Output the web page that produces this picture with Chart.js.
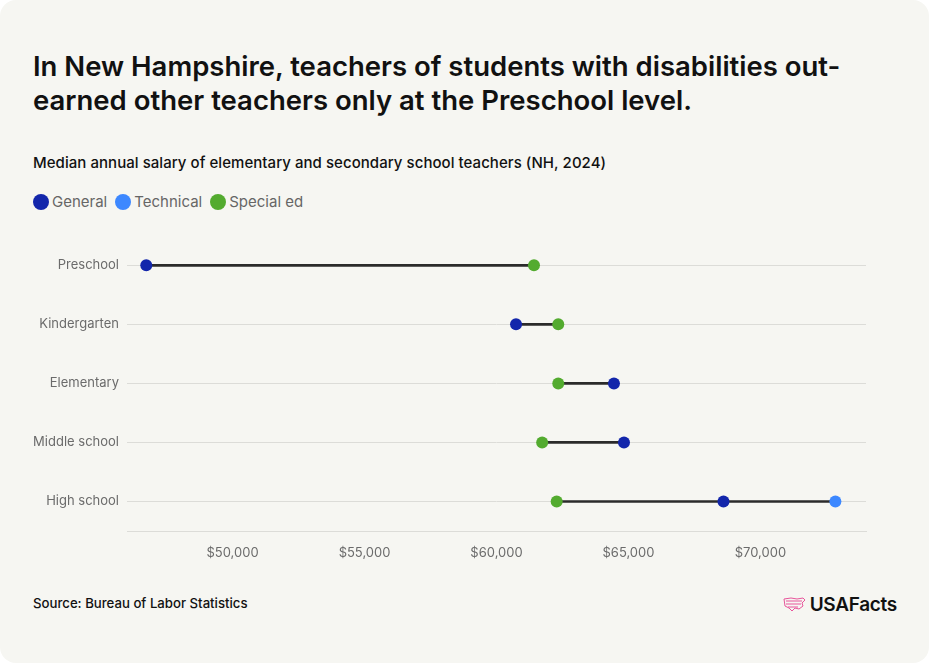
<!DOCTYPE html>
<html>
<head>
<meta charset="utf-8">
<script src="https://cdn.jsdelivr.net/npm/chart.js@4"></script>
<style>
  html, body { margin: 0; padding: 0; background: #ffffff; }
  .card {
    position: relative; width: 929px; height: 663px;
    background: #f6f6f2; border-radius: 16px; overflow: hidden;
    font-family: Inter, 'Noto Sans', sans-serif; color: #111;
  }
  .title {
    position: absolute; left: 33px; top: 49px; width: 890px;
    font-size: 27.5px; line-height: 34px; font-weight: 600; letter-spacing: 0;
  }
  .subtitle {
    position: absolute; left: 33px; top: 154px;
    font-size: 15px; line-height: 18px; font-weight: 500; letter-spacing: 0.05px;
  }
  .legend {
    position: absolute; left: 33px; top: 192px; display: flex; align-items: center;
    font-size: 15px; line-height: 20px; color: #666;
  }
  .legend span.item { display: flex; align-items: center; margin-right: 8px; }
  .legend i { display: inline-block; width: 16px; height: 16px; border-radius: 50%; margin-right: 3px; }
  .chart { position: absolute; left: 0; top: 220px; width: 900px; height: 350px; }
  .source {
    position: absolute; left: 33px; top: 595px;
    font-size: 13.2px; line-height: 16px; font-weight: 500; letter-spacing: 0;
  }
  .logo {
    position: absolute; right: 32px; top: 594px; display: flex; align-items: center;
    font-size: 19px; line-height: 22px; font-weight: 600; letter-spacing: -0.3px;
  }
  .logo svg { margin-right: 4px; }
</style>
</head>
<body>
<div class="card">
  <div class="title">In New Hampshire, teachers of students with disabilities out-<br>earned other teachers only at the Preschool level.</div>
  <div class="subtitle">Median annual salary of elementary and secondary school teachers (NH, 2024)</div>
  <div class="legend" id="legend"></div>
  <div class="chart"><canvas id="chartSalary" width="900" height="350"></canvas></div>
  <div class="source">Source: Bureau of Labor Statistics</div>
  <div class="logo">
    <svg width="23" height="16" viewBox="0 0 23 16" fill="none" stroke="#e8559b" stroke-width="1">
      <path d="M1 2 L8 1 L14 2 L20 1 L22 3 L19 6 L20 9 L16 12 L12 11 L9 14 L6 11 L2 9 Z"/>
      <path d="M3 4 L19 4 M3 7 L18 7 M5 10 L15 10"/>
    </svg>
    <span>USAFacts</span>
  </div>
</div>

<script>
// ── Data ────────────────────────────────────────────────────
const levels = ['Preschool', 'Kindergarten', 'Elementary', 'Middle school', 'High school'];
const general = [46730, 60740, 64450, 64830, 68600];
const technical = [null, null, null, null, 72840];
const specialEd = [61420, 62340, 62340, 61730, 62280];
const xTicks = [50000, 55000, 60000, 65000, 70000];

const colors = { general: '#1326ab', technical: '#3d88ff', special: '#53ab2f' };

// connector range per row, from the three series
const ranges = levels.map((_, i) => {
  const vals = [general[i], technical[i], specialEd[i]].filter(v => v != null);
  return [Math.min(...vals), Math.max(...vals)];
});

// ── Legend (HTML) ───────────────────────────────────────────
const legendItems = [
  ['General', colors.general],
  ['Technical', colors.technical],
  ['Special ed', colors.special]
];
document.getElementById('legend').innerHTML = legendItems
  .map(([name, c]) => `<span class="item"><i style="background:${c}"></i>${name}</span>`)
  .join('');

// ── Chart ───────────────────────────────────────────────────
Chart.defaults.font.family = "Inter, 'Noto Sans', sans-serif";
Chart.defaults.color = '#666';

const pointSet = (label, data, color) => ({
  type: 'line',
  label: label,
  data: data,
  showLine: false,
  pointRadius: 6,
  pointHoverRadius: 7,
  pointBackgroundColor: color,
  pointBorderWidth: 0,
  borderColor: color,
  backgroundColor: color,
  order: 1
});

new Chart(document.getElementById('chartSalary'), {
  type: 'bar',
  data: {
    labels: levels,
    datasets: [
      {
        label: 'Range',
        data: ranges,
        backgroundColor: '#2b2b2b',
        barThickness: 2,
        borderSkipped: false,
        order: 10
      },
      pointSet('Special ed', specialEd, colors.special),
      pointSet('General', general, colors.general),
      pointSet('Technical', technical, colors.technical)
    ]
  },
  options: {
    indexAxis: 'y',
    responsive: false,
    animation: false,
    layout: { padding: { top: 14, right: 34, bottom: 0, left: 0 } },
    plugins: {
      legend: { display: false },
      tooltip: { enabled: false }
    },
    scales: {
      x: {
        min: 46000,
        max: 74000,
        afterFit: (s) => { s.height = 39; },
        afterBuildTicks: (s) => { s.ticks = xTicks.map(v => ({ value: v })); },
        grid: { display: false, drawTicks: false },
        border: { display: true, color: '#dcdcd8', width: 1 },
        ticks: {
          padding: 14,
          color: '#6b6b6b',
          font: { size: 13 },
          callback: (v) => '$' + v.toLocaleString('en-US')
        }
      },
      y: {
        afterFit: (s) => { s.width = 127; },
        grid: { offset: false, color: '#dcdcd8', drawTicks: false },
        border: { display: false },
        ticks: { padding: 8, color: '#6b6b6b', font: { size: 13 } }
      }
    }
  }
});
</script>
</body>
</html>
